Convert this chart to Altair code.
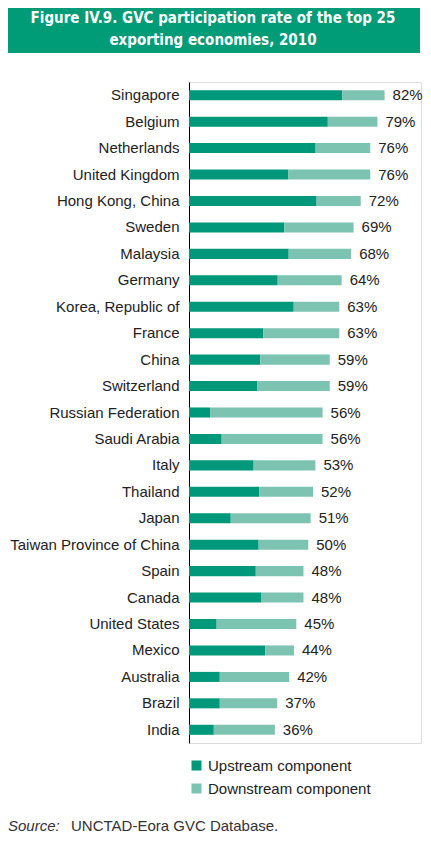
import altair as alt
import pandas as pd

countries = ["Singapore", "Belgium", "Netherlands", "United Kingdom", "Hong Kong, China",
             "Sweden", "Malaysia", "Germany", "Korea, Republic of", "France", "China",
             "Switzerland", "Russian Federation", "Saudi Arabia", "Italy", "Thailand",
             "Japan", "Taiwan Province of China", "Spain", "Canada", "United States",
             "Mexico", "Australia", "Brazil", "India"]
totals = [82, 79, 76, 76, 72, 69, 68, 64, 63, 63, 59, 59, 56, 56, 53, 52, 51, 50, 48, 48,
          45, 44, 42, 37, 36]
upstream = [64.2, 58.2, 53.1, 41.7, 53.5, 40.0, 41.8, 37.2, 43.9, 31.2, 29.9, 28.7, 9.0,
            13.7, 27.1, 29.5, 17.5, 29.2, 28.0, 30.4, 11.6, 32.0, 12.9, 12.9, 10.4]
components = ["Upstream component", "Downstream component"]
colors = ["#00987A", "#7CC3B2"]

rows = []
for c, t, u in zip(countries, totals, upstream):
    rows.append({"country": c, "component": components[0], "value": u, "ord": 0})
    rows.append({"country": c, "component": components[1], "value": t - u, "ord": 1})
df = pd.DataFrame(rows)
tot = pd.DataFrame({"country": countries, "total": totals,
                    "label": [f"{t}%" for t in totals]})
one = pd.DataFrame({"a": [0]})

FONT = "Liberation Sans"
TFONT = "DejaVu Sans Condensed"
W, H = 232, 661

y_enc = alt.Y("country:N", sort=countries,
              scale=alt.Scale(paddingInner=0.62, paddingOuter=0.31),
              axis=alt.Axis(title=None, labelFont=FONT, labelFontSize=15,
                            labelColor="#222222", labelPadding=10, ticks=False,
                            domainColor="#000000", domainWidth=1, grid=False,
                            labelLimit=300))
x_scale = alt.Scale(domain=[0, W / 2.385], nice=False)

bars = alt.Chart(df).mark_bar().encode(
    x=alt.X("value:Q", stack="zero", scale=x_scale, axis=None),
    y=y_enc,
    color=alt.Color("component:N", sort=components,
                    scale=alt.Scale(domain=components, range=colors),
                    legend=alt.Legend(title=None, orient="none", legendX=0, legendY=676,
                                      symbolType="square", symbolSize=100,
                                      symbolStrokeWidth=0, labelFont=FONT,
                                      labelFontSize=15, labelColor="#222222",
                                      labelOffset=4, rowPadding=7, padding=0,
                                      labelLimit=400)),
    order=alt.Order("ord:Q"),
)

labels = alt.Chart(tot).mark_text(align="left", baseline="middle", dx=8, font=FONT,
                                  fontSize=15, color="#222222").encode(
    x=alt.X("total:Q", scale=x_scale),
    y=alt.Y("country:N", sort=countries),
    text="label:N",
)

banner = alt.Chart(one).mark_rect(color="#009B77").encode(
    x=alt.value(-181), x2=alt.value(231), y=alt.value(-74), y2=alt.value(-29))

title1 = alt.Chart(one).mark_text(font=TFONT, fontWeight="bold",
                                  fontSize=15, color="white", align="center",
                                  baseline="middle").encode(
    x=alt.value(24), y=alt.value(-64),
    text=alt.value("Figure IV.9. GVC participation rate of the top 25"))
title2 = alt.Chart(one).mark_text(font=TFONT, fontWeight="bold",
                                  fontSize=15, color="white", align="center",
                                  baseline="middle").encode(
    x=alt.value(24), y=alt.value(-42),
    text=alt.value("exporting economies, 2010"))

src1 = alt.Chart(one).mark_text(font=FONT, fontStyle="italic", fontSize=15,
                                color="#333333", align="left", baseline="middle").encode(
    x=alt.value(-181), y=alt.value(744), text=alt.value("Source:"))
src2 = alt.Chart(one).mark_text(font=FONT, fontSize=15, color="#333333", align="left",
                                baseline="middle").encode(
    x=alt.value(-118), y=alt.value(744), text=alt.value("UNCTAD-Eora GVC Database."))

chart = alt.layer(banner, title1, title2, bars, labels, src1, src2).properties(
    width=W, height=H,
    autosize=alt.AutoSizeParams(type="none"),
    padding={"left": 181, "top": 74, "right": 2, "bottom": 92},
).configure_view(stroke=None).configure(background="white")

chart.save("out.html", embed_options={"renderer": "svg", "actions": False})
